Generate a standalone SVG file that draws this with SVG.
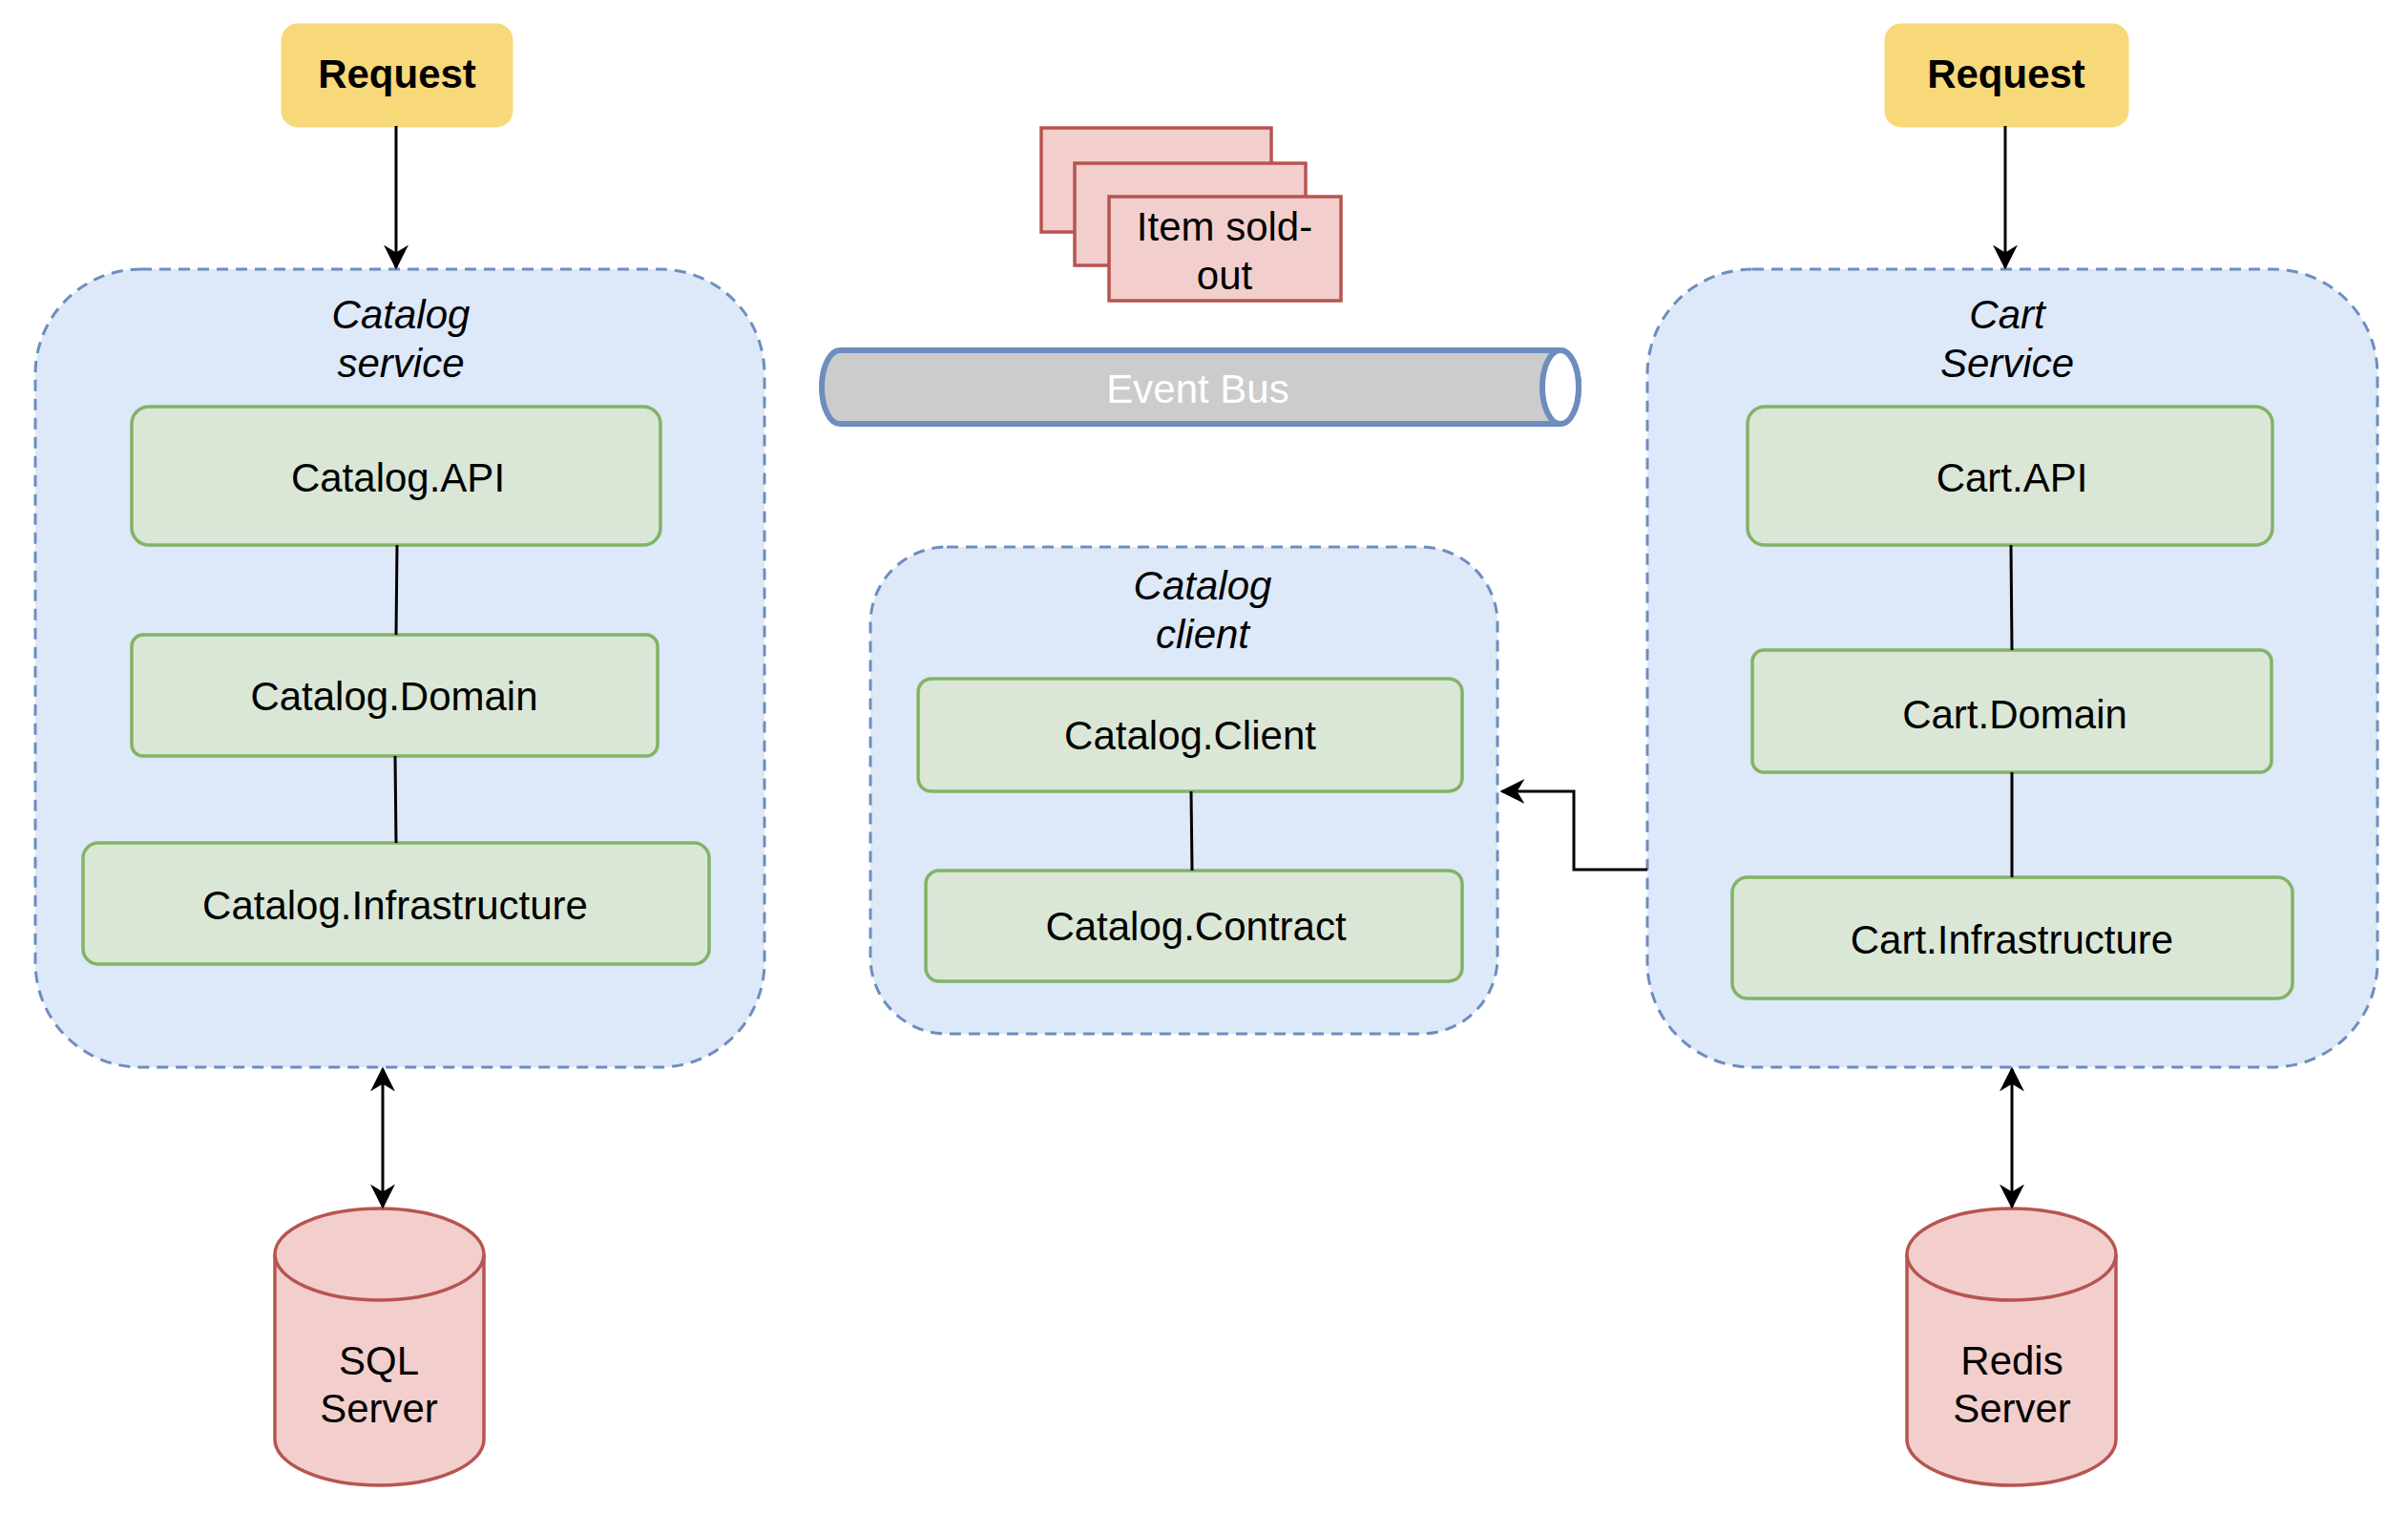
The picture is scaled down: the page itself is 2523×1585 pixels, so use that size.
<svg xmlns="http://www.w3.org/2000/svg" width="2523" height="1585" viewBox="0 0 2523 1585">
<style>
text{font-family:"Liberation Sans",Arial,sans-serif;font-size:42px;fill:#000;text-anchor:middle}
.req{fill:#f8d97a;stroke:#f8d97a;stroke-width:3}
.cont{fill:#dde8f8;stroke:#6c8ebf;stroke-width:3;stroke-dasharray:12 8}
.mod{fill:#dae7d6;stroke:#82b366;stroke-width:3.5}
.red{fill:#f2cfcd;stroke:#b85450;stroke-width:3.5}
.ttl{font-style:italic}
.ln{stroke:#000;stroke-width:3;fill:none}
</style>
<defs>
<marker id="b" viewBox="0 0 10 10" refX="9" refY="5" markerWidth="26" markerHeight="30" markerUnits="userSpaceOnUse" orient="auto-start-reverse"><path d="M0,0 L10,5 L0,10 L3,5 Z" fill="#000"/></marker>
</defs>
<g id="req1"><rect class="req" x="296" y="26" width="240" height="106" rx="16"/><text x="416" y="92" font-weight="bold">Request</text></g>
<g id="req2"><rect class="req" x="1976" y="26" width="253" height="106" rx="16"/><text x="2102" y="92" font-weight="bold">Request</text></g>
<g id="catalog-service"><rect class="cont" x="37" y="282" width="764" height="836" rx="110"/><text class="ttl" x="420" y="344">Catalog</text><text class="ttl" x="420" y="395">service</text></g>
<g id="catalog-api"><rect class="mod" x="138" y="426" width="554" height="145" rx="18"/><text x="417" y="515">Catalog.API</text></g>
<g id="catalog-domain"><rect class="mod" x="138" y="665" width="551" height="127" rx="12"/><text x="413" y="744">Catalog.Domain</text></g>
<g id="catalog-infra"><rect class="mod" x="87" y="883" width="656" height="127" rx="16"/><text x="414" y="963">Catalog.Infrastructure</text></g>
<g id="catalog-client-box"><rect class="cont" x="912" y="573" width="657" height="510" rx="80"/><text class="ttl" x="1260" y="628">Catalog</text><text class="ttl" x="1260" y="679">client</text></g>
<g id="catalog-client"><rect class="mod" x="962" y="711" width="570" height="118" rx="14"/><text x="1247" y="785">Catalog.Client</text></g>
<g id="catalog-contract"><rect class="mod" x="970" y="912" width="562" height="116" rx="14"/><text x="1253" y="985">Catalog.Contract</text></g>
<g id="cart-service"><rect class="cont" x="1726" y="282" width="765" height="836" rx="110"/><text class="ttl" x="2103" y="344">Cart</text><text class="ttl" x="2103" y="395">Service</text></g>
<g id="cart-api"><rect class="mod" x="1831" y="426" width="550" height="145" rx="18"/><text x="2108" y="515">Cart.API</text></g>
<g id="cart-domain"><rect class="mod" x="1836" y="681" width="544" height="128" rx="12"/><text x="2111" y="763">Cart.Domain</text></g>
<g id="cart-infra"><rect class="mod" x="1815" y="919" width="587" height="127" rx="16"/><text x="2108" y="999">Cart.Infrastructure</text></g>
<g id="sql"><path class="red" d="M288,1314 A109.5,48 0 0 1 507,1314 V1508 A109.5,48 0 0 1 288,1508 Z"/><path class="red" fill="none" d="M288,1314 A109.5,48 0 0 0 507,1314"/><text x="397" y="1440">SQL</text><text x="397" y="1490">Server</text></g>
<g id="redis"><path class="red" d="M1998,1314 A109.5,48 0 0 1 2217,1314 V1508 A109.5,48 0 0 1 1998,1508 Z"/><path class="red" fill="none" d="M1998,1314 A109.5,48 0 0 0 2217,1314"/><text x="2108" y="1440">Redis</text><text x="2108" y="1490">Server</text></g>
<g id="event-bus"><path d="M880,367 H1635 A19,38.5 0 0 1 1635,444 H880 A19,38.5 0 0 1 880,367 Z" fill="#cccccc" stroke="#6c8ebf" stroke-width="6"/><ellipse cx="1635" cy="405.5" rx="19" ry="38.5" fill="#fff" stroke="#6c8ebf" stroke-width="6"/><text x="1255" y="422" style="fill:#fff">Event Bus</text></g>
<g id="item-sold-out"><rect class="red" x="1091" y="134" width="241" height="109"/><rect class="red" x="1126" y="171" width="242" height="107"/><rect class="red" x="1162" y="206" width="243" height="109"/><text x="1283" y="252">Item sold-</text><text x="1283" y="303">out</text></g>
<g id="connectors">
<line class="ln" x1="415" y1="132" x2="415" y2="280" marker-end="url(#b)"/>
<line class="ln" x1="2101" y1="132" x2="2101" y2="280" marker-end="url(#b)"/>
<line class="ln" x1="416" y1="571" x2="415" y2="665"/>
<line class="ln" x1="414" y1="792" x2="415" y2="883"/>
<line class="ln" x1="2107" y1="571" x2="2108" y2="681"/>
<line class="ln" x1="2108" y1="809" x2="2108" y2="919"/>
<line class="ln" x1="1248" y1="829" x2="1249" y2="912"/>
<line class="ln" x1="401" y1="1120" x2="401" y2="1264" marker-start="url(#b)" marker-end="url(#b)"/>
<line class="ln" x1="2108" y1="1120" x2="2108" y2="1264" marker-start="url(#b)" marker-end="url(#b)"/>
<path class="ln" stroke-width="3.5" d="M1726,911 H1649 V829 H1574" marker-end="url(#b)"/>
</g>
</svg>
